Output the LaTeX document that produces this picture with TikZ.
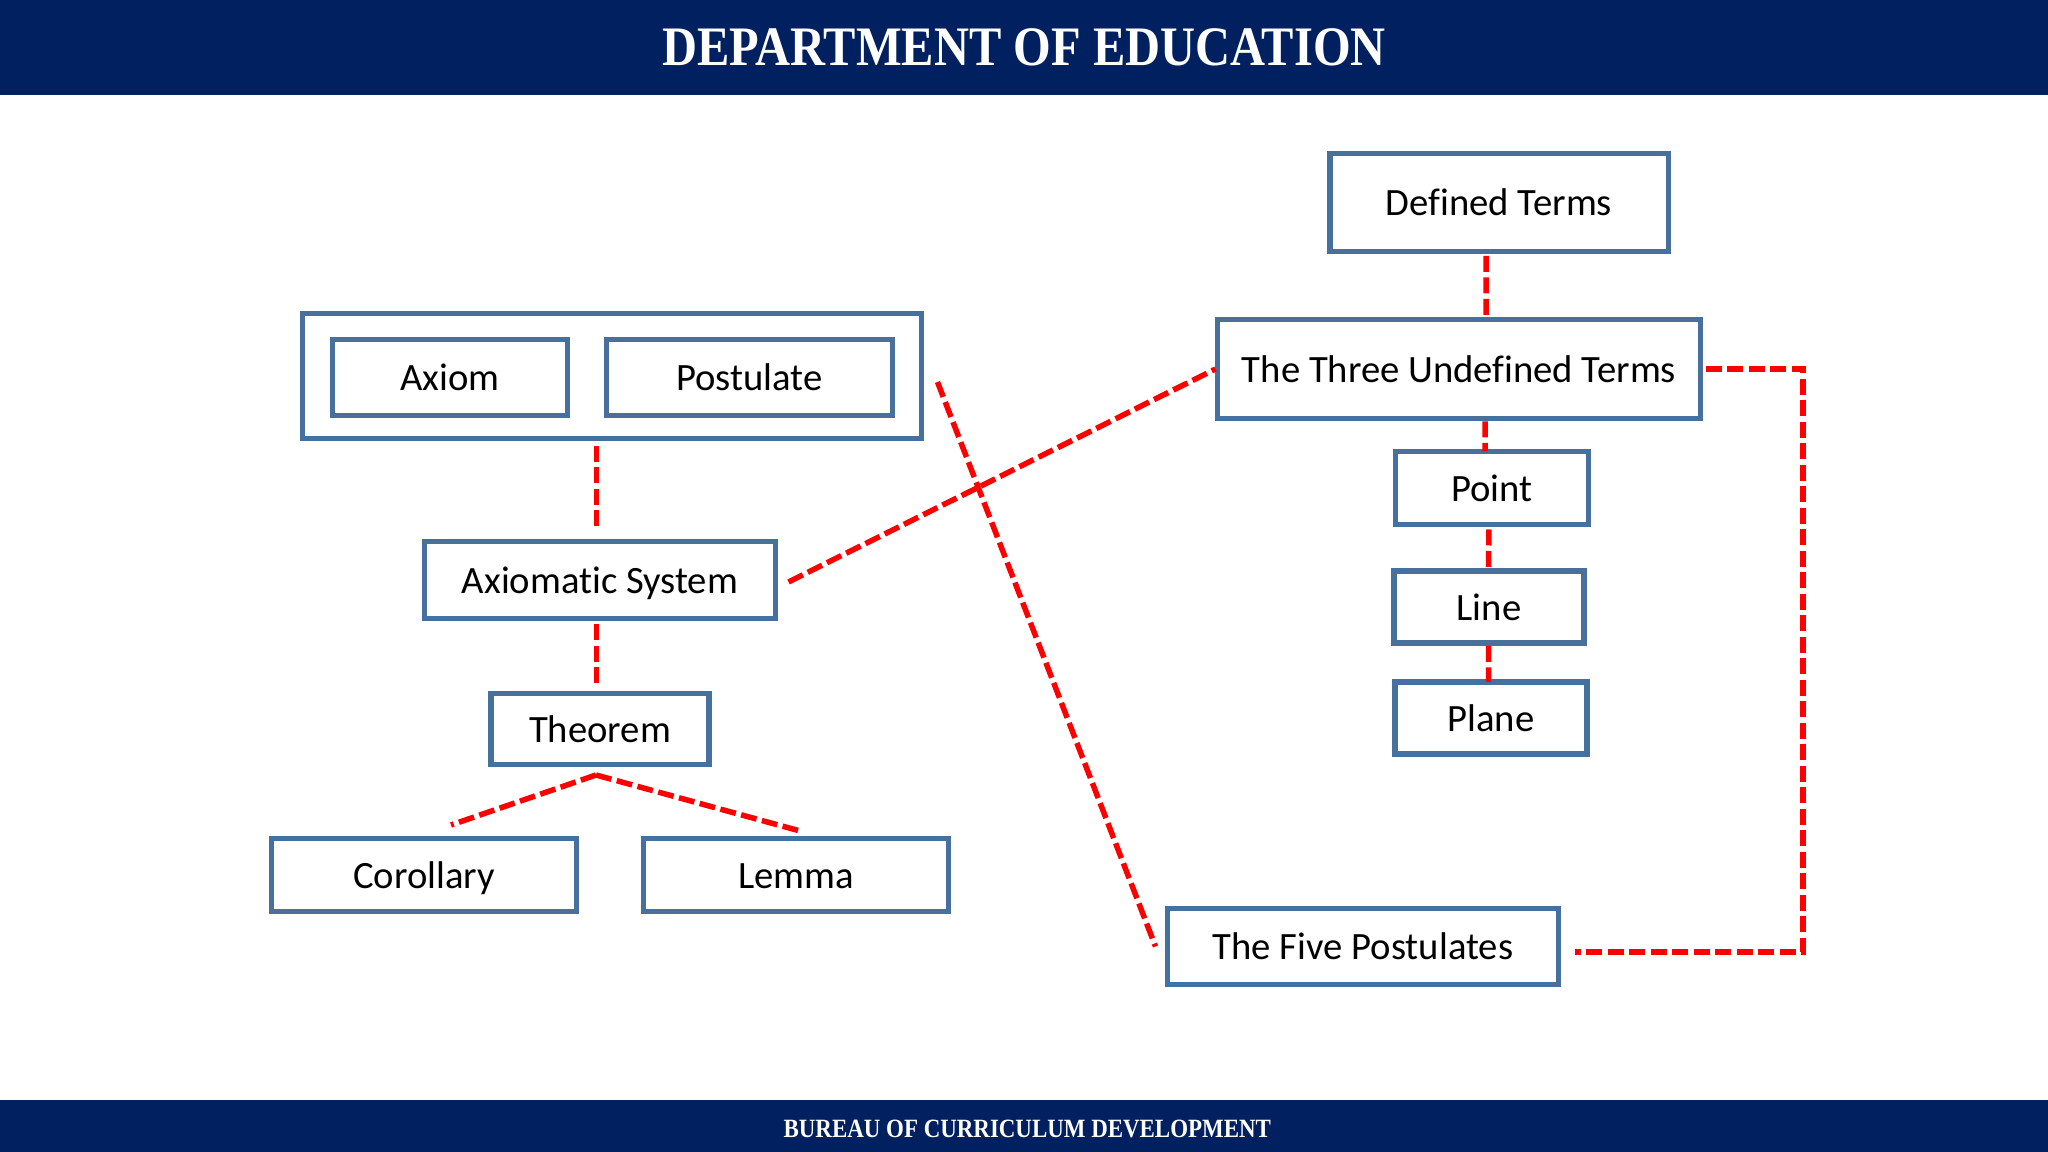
\documentclass[tikz,border=0pt]{standalone}
\usepackage{fontspec}
\setmainfont{Carlito}[RawFeature={-liga}]
\newfontfamily\barfont{Liberation Serif}[BoldFont={Liberation Serif Bold}, BoldFeatures={FakeStretch = 0.87}]
\definecolor{navy}{HTML}{00205F}
\definecolor{boxblue}{HTML}{46719E}
\tikzset{
	bar/.style = {fill = navy, text = white, minimum width = 20.48cm, outer sep = 0pt, font = \barfont\bfseries},
	box/.style = {draw = boxblue, line width = 0.055cm, fill = white, outer sep = 0pt, text height = 0.85em, text depth = 0.1em, font = \fontsize{11}{13}\selectfont},
	link/.style = {red, line width = 0.055cm, dash pattern = on 0.16cm off 0.055cm}
}
\begin{document}
\begin{tikzpicture}
	\useasboundingbox (0, 0) rectangle (20.48, 11.52);
	\node[bar, minimum height = 0.95cm, font = \barfont\bfseries\fontsize{15.85}{18}\selectfont] (header) at (10.24, 11.045) {DEPARTMENT OF EDUCATION};
	\node[bar, minimum height = 0.52cm, text height = 6.5pt, text depth = 0pt, font = \barfont\bfseries\fontsize{7.5}{9}\selectfont] (footer) at (10.24, 0.26) {\hspace*{0.066cm}BUREAU OF CURRICULUM DEVELOPMENT};
	\node[box, minimum width = 6.19cm, minimum height = 1.25cm] (group) at (6.12, 7.76) {};
	\node[box, minimum width = 2.35cm, minimum height = 0.76cm] (axiom) at (4.50, 7.745) {Axiom};
	\node[box, minimum width = 2.86cm, minimum height = 0.76cm] (postulate) at (7.495, 7.745) {Postulate};
	\node[box, minimum width = 3.51cm, minimum height = 0.77cm] (system) at (6.00, 5.72) {Axiomatic System};
	\node[box, minimum width = 2.18cm, minimum height = 0.71cm] (theorem) at (6.00, 4.23) {Theorem};
	\node[box, minimum width = 3.05cm, minimum height = 0.73cm] (corollary) at (4.24, 2.77) {Corollary};
	\node[box, minimum width = 3.05cm, minimum height = 0.73cm] (lemma) at (7.96, 2.77) {Lemma};
	\node[box, minimum width = 3.385cm, minimum height = 0.98cm] (defined) at (14.99, 9.495) {Defined Terms};
	\node[box, minimum width = 4.83cm, minimum height = 0.99cm] (undefined) at (14.59, 7.83) {The Three Undefined Terms};
	\node[box, minimum width = 1.93cm, minimum height = 0.73cm] (point) at (14.92, 6.64) {Point};
	\node[box, minimum width = 1.90cm, minimum height = 0.72cm] (line) at (14.89, 5.45) {Line};
	\node[box, minimum width = 1.92cm, minimum height = 0.72cm] (plane) at (14.91, 4.34) {Plane};
	\node[box, minimum width = 3.91cm, minimum height = 0.76cm] (five) at (13.63, 2.055) {The Five Postulates};
	\coordinate (apex) at (5.96, 3.77);
	\coordinate (railtop) at (18.03, 7.83);
	\coordinate (railbot) at (18.03, 2.00);
	\draw[link] ([shift = {(-0.155, -0.075)}]group.south) -- ([shift = {(-0.035, 0.15)}]system.north);
	\draw[link] ([shift = {(-0.035, -0.06)}]system.south) -- ([shift = {(-0.035, 0.07)}]theorem.north);
	\draw[link] (apex) -- ([shift = {(0.27, 0.135)}]corollary.north);
	\draw[link] (apex) -- ([shift = {(0.04, 0.075)}]lemma.north);
	\draw[link] ([shift = {(0.13, -0.02)}]system.east) -- ([xshift = -0.02cm]undefined.west);
	\draw[link] ([shift = {(0.16, -0.06)}]group.east) -- ([shift = {(-0.12, 0)}]five.west);
	\draw[link] ([shift = {(-0.13, -0.045)}]defined.south) -- ([shift = {(0.27, 0.02)}]undefined.north);
	\draw[link] ([shift = {(0.26, -0.03)}]undefined.south) -- ([shift = {(-0.07, 0)}]point.north);
	\draw[link] ([shift = {(-0.03, -0.05)}]point.south) -- ([shift = {(-0.005, 0.03)}]line.north);
	\draw[link] ([shift = {(-0.005, -0.03)}]line.south) -- ([shift = {(-0.025, 0)}]plane.north);
	\draw[link] ([xshift = 0.05cm]undefined.east) -- (railtop) -- (railbot) -- ([shift = {(0.16, -0.055)}]five.east);
\end{tikzpicture}
\end{document}
